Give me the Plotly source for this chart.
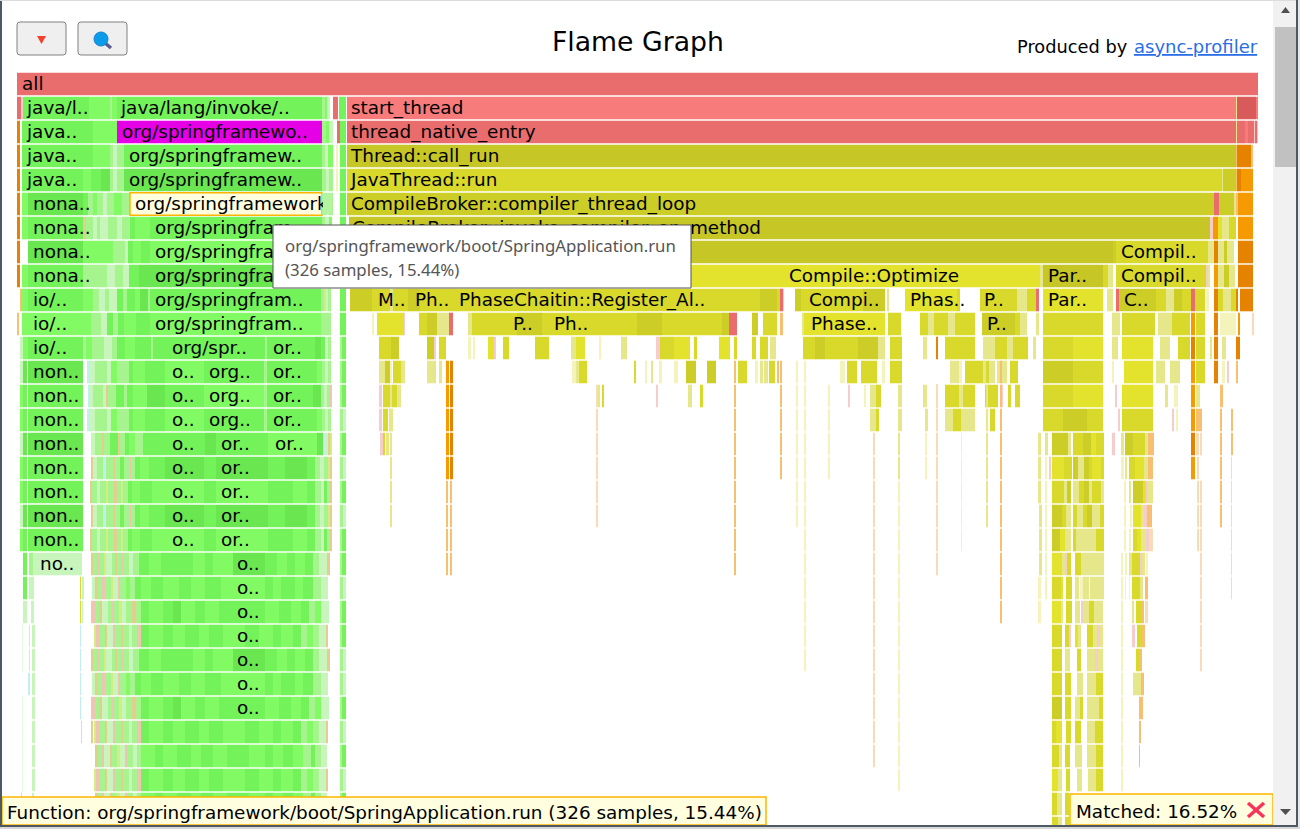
import plotly.graph_objects as go

# every frame is (start, width, kind); the "all" frame spans the whole scale
total_width = 1241

frame_colors = {
    "a": "#74f25a", "b": "#6ae650", "c": "#82fa64", "d": "#a6f48e", "e": "#c8f5bc", "f": "#e4fbde",
    "p": "#e3e32d", "q": "#d9d92b", "s": "#cdcd28", "t": "#c6c626", "u": "#e6e68a", "v": "#f3f3bb",
    "R": "#e96d6d", "S": "#f77b7b", "T": "#d95a5a", "W": "#f6cccc",
    "O": "#e58300", "P": "#f59a00", "X": "#f6c070", "Y": "#f8dcb8",
    "M": "#e600e6", "H": "#ffffe0", "C": "#bff0ee",
    "x": "#e6cc90", "w": "#f0c4b4", "y": "#d2ee80",
}

green_right = [(323, 2, "d"), (325, 4, "a")]
green_right_pale = [(323, 3, "d"), (326, 3, "e")]

row_00 = [(0, 1241, "R")]
row_01 = [(0, 4, "R"), (4, 2, "W"), (6, 66, "a"), (72, 21, "c"), (93, 2, "d"), (95, 5, "c"), (100, 205, "a"),
          (305, 3, "d"), (308, 2, "c"), (310, 3, "e"), (316, 5, "R"), (322, 7, "a"),
          (330, 889, "S"), (1219, 1, "u"), (1220, 19, "T"), (1239, 2, "S")]
row_02 = [(0, 3, "O"), (5, 71, "a"), (76, 24, "c"), (100, 205, "M"), (305, 4, "d"), (309, 3, "c"), (312, 4, "e"),
          (320, 3, "R"), (323, 6, "a"), (330, 889, "R"), (1219, 1, "u"), (1220, 8, "R"), (1228, 3, "S"),
          (1231, 6, "R"), (1237, 1, "W"), (1238, 2, "R"), (1240, 1, "d")]
row_03 = [(0, 3, "O"), (5, 71, "a"), (76, 17, "c"), (93, 3, "d"), (96, 4, "e"), (100, 7, "d"), (107, 198, "a"),
          (305, 3, "d"), (308, 3, "e"), (311, 5, "c"), (319, 2, "v"), (323, 6, "a"),
          (330, 889, "t"), (1219, 1, "X"), (1220, 4, "O"), (1224, 10, "O"), (1234, 2, "X")]
row_04 = [(0, 3, "O"), (5, 61, "a"), (66, 8, "c"), (74, 10, "a"), (84, 9, "b"), (93, 3, "d"), (96, 4, "e"),
          (100, 7, "d"), (107, 198, "b"), (305, 4, "d"), (309, 3, "e"), (312, 4, "d"), (319, 2, "v"), (323, 6, "a"),
          (330, 875, "q"), (1205, 1, "u"), (1206, 13, "s"), (1219, 1, "X"), (1220, 4, "O"), (1224, 2, "P"), (1226, 10, "P")]
row_05 = [(0, 3, "O"), (5, 6, "c"), (11, 55, "b"), (66, 5, "a"), (71, 5, "d"), (76, 4, "c"), (80, 6, "d"),
          (86, 4, "e"), (90, 7, "d"), (97, 8, "c"), (105, 8, "d"), (113, 192, "H"), (305, 4, "d"), (309, 3, "e"),
          (312, 4, "d"), (323, 6, "a"), (330, 867, "s"), (1197, 5, "R"), (1202, 15, "s"), (1217, 2, "u"),
          (1219, 2, "X"), (1221, 3, "P"), (1224, 12, "P")]
row_06 = [(0, 3, "O"), (5, 6, "c"), (11, 55, "a"), (66, 3, "x"), (69, 7, "d")] + \
         [(76, 4, "e"), (80, 3, "d"), (83, 8, "e"), (91, 9, "d"), (100, 5, "e"), (105, 8, "d"), (113, 5, "a"),
          (118, 15, "c"), (133, 172, "a"), (305, 3, "d"), (308, 4, "e"), (312, 3, "c"), (323, 6, "a"),
          (332, 861, "t"), (1193, 3, "W"), (1196, 5, "P"), (1201, 4, "p"), (1205, 7, "u"), (1212, 7, "q"),
          (1221, 2, "P"), (1223, 13, "P")]
row_07 = [(0, 3, "O"), (11, 55, "b"), (66, 10, "c")] + \
         [(76, 20, "c"), (96, 12, "d"), (108, 3, "e"), (111, 5, "a"), (116, 8, "c"), (124, 9, "a"), (133, 172, "c"),
          (305, 6, "d"), (311, 4, "e"), (323, 6, "a"), (332, 764, "t"), (1096, 3, "s"), (1099, 92, "q"),
          (1191, 6, "u"), (1197, 4, "O"), (1201, 6, "u"), (1207, 3, "s"), (1210, 7, "u"), (1221, 15, "O")]
row_08 = [(0, 3, "O"), (5, 6, "c"), (11, 55, "a"), (66, 10, "d")] + \
         [(76, 14, "d"), (90, 8, "e"), (98, 8, "d"), (106, 6, "e"), (112, 10, "a"), (122, 11, "b"), (133, 172, "b"),
          (305, 3, "a"), (308, 7, "d"), (323, 6, "a"), (332, 691, "p"), (1023, 3, "u"), (1026, 60, "t"),
          (1086, 5, "q"), (1091, 5, "u"), (1099, 90, "q"), (1189, 2, "W"), (1191, 2, "u"), (1197, 4, "P"),
          (1201, 6, "u"), (1207, 5, "s"), (1212, 6, "u"), (1221, 15, "O")]
row_09 = [(3, 2, "X"), (5, 6, "c"), (11, 55, "a"), (66, 10, "c"), (76, 6, "d"), (82, 6, "e"), (88, 4, "d"),
          (92, 8, "e"), (100, 6, "a"), (106, 4, "d"), (110, 8, "a"), (118, 5, "c"), (123, 8, "b"), (131, 2, "d"),
          (133, 171, "a"), (304, 3, "d"), (307, 2, "y"), (309, 2, "e"), (311, 3, "d"), (323, 6, "a"),
          (333, 22, "s"), (355, 18, "q"), (373, 3, "u"), (376, 15, "q"), (391, 12, "s"), (403, 10, "q"),
          (413, 330, "q"), (743, 17, "s"), (760, 3, "q"), (763, 3, "R"), (766, 1, "W"),
          (778, 6, "s"), (784, 62, "q"), (846, 22, "s"), (870, 2, "u"), (888, 52, "p"), (940, 3, "q"),
          (963, 37, "q"), (1000, 10, "u"), (1010, 9, "q"), (1019, 3, "R"), (1026, 60, "p"), (1090, 6, "u"),
          (1099, 3, "R"), (1102, 37, "s"), (1139, 10, "q"), (1149, 8, "u"), (1157, 8, "s"), (1165, 9, "q"),
          (1174, 4, "R"), (1178, 10, "q"), (1189, 3, "v"), (1197, 4, "O"), (1201, 5, "q"), (1206, 8, "u"),
          (1214, 5, "q"), (1219, 2, "O"), (1223, 13, "O")]
row_10 = [(0, 2, "X"), (5, 6, "c"), (11, 55, "c"), (66, 8, "c"), (74, 10, "d"), (84, 6, "e"), (90, 6, "a"),
          (96, 5, "d"), (101, 6, "a"), (107, 12, "c"), (119, 14, "a"), (133, 171, "c"), (304, 10, "d"), (323, 6, "a"),
          (355, 2, "v"), (360, 27, "p"), (387, 1, "W"), (402, 8, "q"), (410, 10, "s"), (420, 12, "u"), (432, 4, "R"),
          (451, 4, "u"), (455, 45, "q"), (500, 25, "s"), (525, 40, "q"), (565, 55, "q"), (620, 25, "s"),
          (645, 60, "q"), (705, 7, "s"), (712, 8, "R"), (735, 6, "s"), (746, 14, "q"), (763, 3, "X"),
          (785, 2, "u"), (787, 81, "p"), (871, 13, "q"), (903, 8, "q"), (911, 6, "u"), (917, 14, "q"), (931, 7, "u"),
          (938, 20, "q"), (965, 33, "s"), (998, 5, "q"), (1003, 7, "u"), (1019, 3, "u"), (1026, 60, "q"),
          (1095, 8, "u"), (1105, 33, "q"), (1141, 14, "u"), (1155, 18, "q"), (1174, 4, "P"), (1179, 9, "q"),
          (1197, 4, "O"), (1203, 16, "v"), (1221, 2, "P"), (1235, 2, "Y")]
row_11 = [(3, 3, "e"), (6, 5, "c"), (11, 55, "a"), (66, 3, "d"), (69, 6, "c"), (75, 12, "d"), (87, 8, "e"),
          (95, 5, "d"), (100, 8, "a"), (108, 10, "c"), (118, 16, "a"), (134, 2, "d"), (136, 112, "a"), (248, 2, "d"),
          (250, 48, "a"), (298, 6, "b"), (304, 4, "a"), (308, 3, "e"), (311, 3, "d")] + green_right + \
         [(362, 12, "q"), (374, 8, "s"), (410, 7, "s"), (417, 2, "W"), (422, 7, "q"), (451, 3, "v"), (456, 2, "v"),
          (471, 6, "p"), (477, 2, "W"), (486, 6, "q"), (518, 14, "q"), (554, 5, "u"), (559, 9, "p"), (582, 2, "v"),
          (604, 6, "u"), (639, 4, "W"), (643, 14, "q"), (657, 16, "p"), (677, 3, "q"), (702, 11, "p"),
          (717, 3, "q"), (735, 4, "q"), (743, 8, "q"), (753, 6, "u"),
          (786, 12, "q"), (798, 10, "s"), (808, 18, "q"), (826, 15, "q"), (841, 20, "s"), (861, 7, "u"), (873, 12, "q"),
          (906, 4, "u"), (919, 2, "O"), (928, 30, "q"), (966, 12, "u"), (978, 12, "q"), (990, 6, "u"), (996, 15, "q"),
          (1016, 3, "u"), (1026, 30, "q"), (1056, 30, "p"), (1095, 6, "u"), (1105, 31, "p"), (1143, 10, "u"),
          (1161, 12, "q"), (1174, 4, "O"), (1179, 9, "q"), (1193, 2, "u"), (1197, 4, "O"), (1205, 4, "u"), (1219, 4, "O")]

# the Spring stacks in the lower green block
green_mid_b = [(70, 2, "C"), (72, 6, "e"), (78, 12, "d"), (90, 4, "e"), (94, 6, "c"), (100, 12, "d"), (112, 4, "a"),
               (116, 12, "c"), (128, 20, "a"), (148, 39, "c"), (187, 60, "a"), (247, 3, "d"), (250, 50, "a"),
               (300, 5, "c"), (305, 3, "d"), (308, 3, "e"), (311, 3, "d")]
green_mid_b2 = [(71, 2, "C"), (73, 3, "e"), (76, 10, "d"), (86, 3, "e"), (89, 2, "x"), (91, 8, "d"), (99, 8, "a"),
                (107, 3, "d"), (110, 6, "a"), (116, 14, "c"), (130, 18, "b"), (148, 39, "a"), (187, 60, "c"),
                (247, 3, "d"), (250, 46, "a"), (296, 8, "b"), (304, 3, "d"), (307, 3, "e"), (310, 3, "d"), (313, 2, "w")]
green_mid_c = [(74, 4, "e"), (78, 7, "d"), (85, 2, "x"), (87, 6, "d"), (93, 8, "a"), (101, 2, "x"), (103, 5, "d"),
               (108, 4, "a"), (112, 6, "c"), (118, 8, "d"), (126, 22, "a"), (148, 40, "a"), (188, 11, "b"),
               (199, 52, "a"), (251, 49, "c"), (300, 6, "b"), (306, 2, "C"), (308, 3, "e"), (311, 2, "x"), (313, 2, "y")]
green_mid_d = [(74, 2, "x"), (76, 4, "e"), (80, 6, "d"), (86, 3, "C"), (89, 7, "d"), (96, 2, "x"), (98, 5, "d"),
               (103, 4, "a"), (107, 5, "d"), (112, 2, "w"), (114, 4, "d"), (118, 5, "a"), (123, 9, "c"), (132, 16, "a"),
               (148, 39, "b"), (187, 12, "a"), (199, 52, "b"), (251, 17, "a"), (268, 22, "b"), (290, 8, "a"),
               (298, 5, "d"), (303, 4, "e"), (307, 4, "d"), (311, 2, "y"), (313, 2, "x")]
green_mid_e = [(73, 2, "x"), (75, 5, "d"), (80, 3, "e"), (83, 6, "d"), (89, 2, "y"), (91, 6, "d"), (97, 3, "x"),
               (100, 4, "d"), (104, 2, "y"), (106, 5, "d"), (111, 4, "a"), (115, 8, "c"), (123, 12, "a"), (135, 13, "c"),
               (148, 39, "c"), (187, 12, "a"), (199, 52, "c"), (251, 25, "a"), (276, 14, "c"), (290, 8, "a"),
               (298, 6, "d"), (304, 3, "e"), (307, 3, "a"), (310, 3, "d"), (313, 2, "x")]
green_low_a = [(74, 2, "x"), (76, 4, "d"), (80, 2, "w"), (82, 5, "d"), (87, 2, "y"), (89, 6, "e"), (95, 3, "d"),
               (98, 2, "x"), (100, 4, "d"), (104, 2, "w"), (106, 6, "d"), (112, 4, "e"), (116, 6, "d"), (122, 10, "a"),
               (132, 12, "c"), (144, 32, "a"), (176, 12, "c"), (188, 8, "a"), (196, 20, "c"), (216, 32, "b"),
               (248, 12, "a"), (260, 10, "c"), (270, 8, "a"), (278, 10, "c"), (288, 8, "a"), (296, 6, "d"), (302, 8, "e"), (310, 3, "x")]
green_low_b = [(75, 3, "e"), (78, 2, "x"), (80, 5, "d"), (85, 3, "w"), (88, 6, "d"), (94, 2, "y"), (96, 5, "e"),
               (101, 2, "w"), (103, 6, "d"), (109, 4, "c"), (113, 5, "d"), (118, 6, "a"), (124, 10, "c"), (134, 12, "a"),
               (146, 16, "c"), (162, 12, "a"), (174, 14, "c"), (188, 16, "a"), (204, 12, "c"), (216, 32, "c"),
               (248, 8, "a"), (256, 8, "c"), (264, 14, "a"), (278, 8, "c"), (286, 10, "a"), (296, 8, "d"), (304, 7, "e")]
green_low_c = [(74, 4, "w"), (78, 4, "d"), (82, 3, "x"), (85, 6, "e"), (91, 4, "d"), (95, 2, "w"), (97, 5, "d"),
               (102, 3, "y"), (105, 4, "e"), (109, 6, "d"), (115, 4, "x"), (119, 5, "d"), (124, 8, "a"), (132, 14, "c"),
               (146, 10, "a"), (156, 8, "b"), (164, 14, "c"), (178, 10, "a"), (188, 14, "c"), (202, 14, "a"),
               (216, 32, "a"), (248, 14, "c"), (262, 12, "a"), (274, 10, "c"), (284, 8, "a"), (292, 6, "d"), (298, 6, "c"), (304, 8, "e")]
green_low_d = [(77, 2, "y"), (79, 4, "w"), (83, 5, "d"), (88, 2, "x"), (90, 6, "e"), (96, 3, "w"), (99, 5, "d"),
               (104, 2, "x"), (106, 6, "d"), (112, 3, "e"), (115, 5, "d"), (120, 4, "w"), (124, 8, "a"), (132, 14, "c"),
               (146, 10, "a"), (156, 12, "c"), (168, 14, "a"), (182, 10, "c"), (192, 14, "a"), (206, 12, "c"),
               (218, 10, "c"), (228, 14, "a"), (242, 14, "c"), (256, 8, "a"), (264, 12, "c"), (276, 8, "a"), (284, 6, "d"),
               (290, 6, "c"), (296, 6, "d"), (302, 7, "e"), (309, 2, "x")]
green_low_e = [(78, 3, "x"), (81, 4, "d"), (85, 2, "w"), (87, 6, "e"), (93, 2, "x"), (95, 5, "d"), (100, 3, "y"),
               (103, 5, "e"), (108, 2, "w"), (110, 6, "d"), (116, 4, "e"), (120, 4, "d"), (124, 14, "c"), (138, 8, "a"),
               (146, 14, "c"), (160, 14, "a"), (174, 10, "c"), (184, 12, "a"), (196, 14, "c"), (210, 8, "a"),
               (218, 14, "a"), (232, 16, "c"), (248, 8, "a"), (256, 10, "c"), (266, 10, "a"), (276, 10, "c"), (286, 8, "d"),
               (294, 4, "a"), (298, 6, "d"), (304, 6, "e")]

left_non = [(3, 3, "c"), (6, 4, "a"), (11, 55, "a")]
left_non_dark = [(3, 3, "e"), (6, 4, "b"), (11, 55, "b")]

row_12 = left_non_dark + green_mid_b + green_right + \
         [(362, 6, "u"), (368, 5, "s"), (373, 2, "v"), (376, 8, "q"), (384, 4, "u"), (410, 8, "u"), (418, 1, "W"),
          (422, 3, "u"), (555, 4, "v"), (559, 3, "u"), (562, 8, "q"), (617, 2, "q"), (628, 2, "v"), (634, 2, "u"),
          (642, 3, "v"), (657, 4, "v"), (669, 10, "s"), (690, 9, "s"), (721, 9, "q"), (738, 3, "v"), (743, 3, "u"),
          (747, 4, "u"), (752, 6, "q"), (760, 2, "X"),
          (823, 5, "v"), (830, 10, "q"), (844, 16, "q"), (865, 3, "v"), (873, 12, "q"), (933, 9, "u"), (942, 3, "v"),
          (948, 25, "q"), (966, 3, "u"), (972, 6, "u"), (980, 10, "u"), (993, 8, "q"), (1026, 30, "s"), (1056, 30, "q"),
          (1095, 2, "v"), (1107, 29, "p"), (1139, 9, "u"), (1153, 10, "u"), (1174, 4, "P"), (1179, 9, "q"),
          (1197, 4, "O"), (1219, 2, "X"), (1205, 3, "v"), (1210, 2, "W")]
row_13 = left_non + green_mid_b2 + green_right + \
         [(362, 3, "W"), (366, 7, "q"), (375, 5, "q"), (380, 4, "u"), (581, 2, "u"), (585, 2, "q"), (639, 2, "W"),
          (671, 4, "u"), (683, 3, "q"),
          (831, 2, "W"), (847, 2, "v"), (853, 6, "u"), (859, 5, "q"), (883, 2, "u"), (906, 4, "u"), (919, 2, "O"),
          (928, 14, "q"), (942, 4, "u"), (946, 12, "q"), (968, 13, "q"), (983, 3, "W"), (991, 3, "q"), (998, 5, "q"),
          (1026, 30, "q"), (1056, 30, "p"), (1098, 2, "W"), (1105, 31, "p"), (1148, 3, "u"), (1157, 4, "v"),
          (1174, 4, "P"), (1179, 4, "u"), (1203, 3, "X")]
row_14 = left_non + green_mid_b + green_right_pale + \
         [(362, 3, "W"), (366, 5, "q"), (372, 4, "u"),
          (853, 6, "u"), (859, 3, "q"), (883, 2, "u"), (908, 3, "u"), (928, 8, "u"), (936, 8, "q"), (944, 14, "u"),
          (973, 5, "q"), (983, 2, "v"), (1026, 20, "q"), (1046, 24, "s"), (1070, 16, "q"), (1101, 2, "W"),
          (1105, 31, "q"), (1155, 2, "W"), (1159, 2, "v"), (1174, 4, "P"), (1179, 6, "X"), (1203, 2, "X"), (1214, 2, "X")]
row_15 = left_non_dark + green_mid_c + green_right + \
         [(363, 3, "W"), (366, 2, "q"), (369, 3, "u"), (1021, 3, "u"), (1028, 3, "u"), (1035, 16, "s"), (1051, 3, "u"),
          (1056, 10, "q"), (1066, 8, "s"), (1074, 5, "p"), (1079, 8, "q"), (1095, 3, "W"), (1104, 3, "u"),
          (1108, 8, "s"), (1116, 12, "q"), (1128, 3, "u"), (1131, 6, "X"), (1174, 4, "O"), (1179, 3, "Y"),
          (1183, 2, "Y"), (1203, 2, "X"), (1214, 2, "X")]
row_16 = left_non + green_mid_d + green_right_pale + \
         [(1021, 3, "u"), (1028, 2, "v"), (1032, 2, "W"), (1035, 12, "p"), (1047, 8, "q"), (1056, 5, "s"), (1061, 6, "u"),
          (1067, 5, "s"), (1072, 3, "q"), (1075, 9, "p"), (1084, 3, "q"), (1104, 3, "v"), (1108, 2, "u"), (1112, 6, "q"),
          (1118, 9, "p"), (1127, 4, "u"), (1131, 5, "X"), (1174, 4, "P"), (1180, 2, "Y"), (1203, 2, "X"), (1214, 1, "Y")]
row_17 = left_non + green_mid_e + green_right + \
         [(1021, 3, "u"), (1028, 2, "v"), (1035, 12, "q"), (1047, 3, "u"), (1050, 4, "s"), (1056, 6, "u"), (1062, 5, "q"),
          (1067, 5, "s"), (1072, 3, "u"), (1075, 9, "q"), (1084, 3, "u"), (1107, 2, "v"), (1112, 2, "u"), (1116, 10, "s"),
          (1126, 3, "p"), (1129, 2, "W"), (1131, 5, "u"), (1180, 2, "Y"), (1183, 2, "Y"), (1203, 2, "X"), (1214, 1, "Y")]
row_18 = left_non_dark + green_mid_d + green_right_pale + \
         [(1022, 3, "u"), (1028, 2, "v"), (1035, 10, "s"), (1045, 4, "q"), (1049, 5, "u"), (1056, 4, "q"), (1060, 6, "u"),
          (1066, 4, "q"), (1070, 5, "s"), (1075, 8, "u"), (1083, 4, "q"), (1107, 2, "v"), (1113, 2, "v"), (1116, 8, "p"),
          (1124, 3, "u"), (1127, 3, "W"), (1130, 5, "X"), (1180, 2, "Y"), (1183, 2, "Y"), (1203, 2, "X"), (1214, 1, "Y")]
row_19 = left_non + green_mid_e + green_right + \
         [(1022, 3, "u"), (1028, 2, "v"), (1035, 8, "s"), (1043, 5, "p"), (1048, 6, "u"), (1056, 3, "q"), (1059, 4, "u"),
          (1063, 8, "u"), (1071, 8, "u"), (1079, 8, "q"), (1107, 2, "v"), (1112, 2, "v"), (1116, 4, "q"), (1120, 4, "p"),
          (1124, 5, "u"), (1129, 3, "W"), (1132, 4, "Y"), (1180, 2, "Y"), (1183, 2, "Y"), (1214, 1, "Y")]
row_20 = [(6, 4, "a"), (12, 4, "d"), (16, 49, "e")] + green_low_a + green_right + \
         [(1022, 3, "u"), (1028, 2, "v"), (1035, 10, "p"), (1045, 3, "u"), (1048, 2, "W"), (1050, 4, "q"), (1058, 6, "q"),
          (1064, 6, "u"), (1070, 8, "u"), (1078, 9, "u"), (1104, 2, "v"), (1108, 2, "v"), (1112, 3, "u"), (1115, 8, "q"),
          (1123, 2, "W"), (1125, 3, "u"), (1129, 2, "v"), (1183, 2, "Y"), (1214, 1, "Y")]
row_21 = [(6, 4, "a"), (12, 5, "e"), (63, 1, "q"), (65, 2, "e")] + green_low_b + green_right_pale + \
         [(1021, 3, "v"), (1028, 2, "v"), (1035, 9, "q"), (1044, 2, "p"), (1049, 6, "q"), (1058, 4, "u"), (1063, 3, "v"),
          (1066, 6, "u"), (1073, 6, "u"), (1079, 8, "u"), (1104, 2, "v"), (1108, 1, "v"), (1112, 1, "v"), (1115, 8, "q"),
          (1123, 3, "u"), (1128, 3, "X"), (1183, 2, "Y"), (1214, 1, "Y")]
row_22 = [(6, 4, "e"), (14, 3, "e"), (63, 1, "q"), (65, 1, "e")] + green_low_c + green_right + \
         [(1021, 3, "v"), (1035, 9, "p"), (1044, 2, "u"), (1049, 6, "q"), (1058, 5, "u"), (1064, 2, "W"), (1066, 6, "u"),
          (1072, 5, "q"), (1077, 9, "u"), (1104, 2, "v"), (1115, 2, "u"), (1119, 6, "q"), (1125, 2, "X"), (1128, 3, "Y"),
          (1183, 2, "Y")]
row_23 = [(5, 1, "f"), (12, 1, "e"), (15, 3, "e"), (63, 1, "C")] + green_low_d + green_right + \
         [(1035, 10, "q"), (1048, 4, "q"), (1052, 2, "W"), (1058, 3, "p"), (1061, 3, "u"), (1070, 6, "q"), (1076, 4, "u"),
          (1080, 3, "W"), (1083, 3, "u"), (1104, 2, "v"), (1115, 3, "W"), (1120, 5, "q"), (1125, 3, "X"), (1183, 2, "Y")]
row_24 = [(5, 1, "f"), (12, 1, "e"), (15, 3, "e"), (63, 1, "C")] + green_low_a + green_right_pale + \
         [(1035, 10, "q"), (1048, 5, "u"), (1060, 4, "q"), (1070, 8, "u"), (1078, 3, "W"), (1081, 5, "u"), (1104, 2, "v"),
          (1119, 3, "q"), (1122, 3, "X"), (1183, 2, "Y")]
row_25 = [(11, 2, "C"), (15, 3, "e"), (63, 1, "C")] + green_low_b + green_right_pale + \
         [(1035, 10, "q"), (1048, 6, "q"), (1060, 6, "u"), (1070, 9, "u"), (1079, 7, "q"), (1104, 2, "v"), (1116, 8, "u"),
          (1124, 3, "X")]
row_26 = [(5, 1, "f"), (15, 3, "e"), (63, 1, "C")] + green_low_c + green_right + \
         [(1035, 10, "s"), (1048, 6, "q"), (1058, 5, "u"), (1063, 3, "q"), (1070, 12, "u"), (1082, 4, "q"), (1104, 2, "v"),
          (1122, 4, "X")]
row_27 = [(5, 1, "f"), (15, 3, "e"), (64, 1, "W"), (74, 2, "x")] + green_low_d + green_right_pale + \
         [(1035, 4, "q"), (1039, 6, "p"), (1049, 5, "q"), (1058, 6, "q"), (1070, 8, "u"), (1078, 8, "q"), (1104, 2, "v"),
          (1122, 2, "X")]
row_28 = [(5, 1, "f"), (15, 3, "e")] + green_low_e + green_right + \
         [(1035, 7, "q"), (1042, 3, "u"), (1048, 5, "q"), (1058, 7, "u"), (1070, 9, "u"), (1079, 7, "q"), (1104, 2, "v"),
          (1122, 1, "X")]
row_29 = [(5, 1, "f"), (15, 3, "e")] + green_low_d + green_right_pale + \
         [(1035, 6, "p"), (1041, 4, "u"), (1049, 4, "q"), (1060, 5, "u"), (1071, 8, "u"), (1079, 7, "q"), (1104, 2, "v")]
row_30 = [(4, 1, "W"), (15, 2, "e")] + green_low_e + green_right + \
         [(1035, 5, "q"), (1040, 5, "u"), (1048, 4, "q")]
row_31 = [(15, 2, "e")] + green_low_d + green_right_pale + [(1035, 6, "q"), (1041, 4, "u"), (1048, 4, "q")]

all_rows = [row_00, row_01, row_02, row_03, row_04, row_05, row_06, row_07, row_08, row_09, row_10,
            row_11, row_12, row_13, row_14, row_15, row_16, row_17, row_18, row_19, row_20, row_21,
            row_22, row_23, row_24, row_25, row_26, row_27, row_28, row_29, row_30, row_31]

# tall thin stacks: (start, width, kind, first row, last row)
thin_stacks = [
    (373, 2, "u", 13, 18), (429, 3, "P", 12, 16), (429, 2, "X", 17, 20), (433, 3, "O", 12, 16), (433, 2, "X", 17, 20),
    (579, 2, "Y", 13, 18), (717, 2, "X", 12, 20), (763, 2, "X", 12, 16), (779, 2, "v", 12, 18), (787, 2, "v", 12, 24),
    (811, 2, "v", 13, 16), (856, 2, "Y", 15, 28), (881, 2, "u", 13, 16), (881, 2, "v", 17, 29), (908, 2, "v", 15, 16),
    (919, 2, "Y", 13, 20), (944, 1, "v", 15, 19), (969, 2, "u", 13, 18), (983, 2, "X", 12, 22),
]

frame_row, frame_start, frame_width, frame_color = [], [], [], []
for row_index, row_frames in enumerate(all_rows):
    for start, width, kind in row_frames:
        frame_row.append(row_index)
        frame_start.append(start)
        frame_width.append(width)
        frame_color.append(frame_colors[kind])
for start, width, kind, first_row, last_row in thin_stacks:
    for row_index in range(first_row, last_row + 1):
        frame_row.append(row_index)
        frame_start.append(start)
        frame_width.append(width)
        frame_color.append(frame_colors[kind])

line_color = ["#ffb400" if c == frame_colors["H"] else c for c in frame_color]
line_width = [1.5 if c == frame_colors["H"] else 0 for c in frame_color]

label_rows = [0,
              1, 1, 1, 2, 2, 2, 3, 3, 3, 4, 4, 4,
              5, 5, 5, 6, 6, 6, 7, 7, 7, 8, 8, 8, 8, 8,
              9, 9, 9, 9, 9, 9, 9, 9, 9, 9,
              10, 10, 10, 10, 10, 10,
              11, 11, 11,
              12, 12, 12, 12, 13, 13, 13, 13, 14, 14, 14, 14,
              15, 15, 15, 15, 16, 16, 16, 17, 17, 17, 18, 18, 18, 19, 19, 19,
              20, 20, 21, 22, 23, 24, 25, 26]
label_starts = [5,
                10, 104, 334, 10, 105, 334, 10, 112, 334, 10, 112, 334,
                16, 118, 334, 16, 138, 335, 16, 138, 1104, 16, 138, 772, 1031, 1104,
                16, 138, 361, 398, 442, 792, 893, 967, 1031, 1107,
                16, 138, 496, 537, 794, 970,
                16, 155, 256,
                16, 155, 192, 256, 16, 155, 192, 256, 16, 155, 192, 256,
                16, 155, 204, 258, 16, 155, 204, 16, 155, 204, 16, 155, 204, 16, 155, 204,
                23, 220, 220, 220, 220, 220, 220, 220]
label_texts = ["all",
               "java/l..", "java/lang/invoke/..", "start_thread",
               "java..", "org/springframewo..", "thread_native_entry",
               "java..", "org/springframew..", "Thread::call_run",
               "java..", "org/springframew..", "JavaThread::run",
               "nona..", "org/springframework", "CompileBroker::compiler_thread_loop",
               "nona..", "org/springfram", "CompileBroker::invoke_compiler_on_method",
               "nona..", "org/springfram", "Compil..",
               "nona..", "org/springfram", "Compile::Optimize", "Par..", "Compil..",
               "io/..", "org/springfram..", "M..", "Ph..", "PhaseChaitin::Register_Al..", "Compi..", "Phas..", "P..", "Par..", "C..",
               "io/..", "org/springfram..", "P..", "Ph..", "Phase..", "P..",
               "io/..", "org/spr..", "or..",
               "non..", "o..", "org..", "or..", "non..", "o..", "org..", "or..", "non..", "o..", "org..", "or..",
               "non..", "o..", "or..", "or..", "non..", "o..", "or..", "non..", "o..", "or..", "non..", "o..", "or..",
               "non..", "o..", "or..",
               "no..", "o..", "o..", "o..", "o..", "o..", "o..", "o.."]

tooltip_lines = ["org/springframework/boot/SpringApplication.run", "(326 samples, 15.44%)"]
status_text = "Function: org/springframework/boot/SpringApplication.run (326 samples, 15.44%)"
matched_text = "Matched: 16.52%"

W, H = 1300, 829
FONT = "DejaVu Sans"
LABEL_SIZE = 18.4


def px(x):
    return x / W


def py(y):
    return 1 - y / H


def box(x0, y0, x1, y1, fill, line=None, lw=1):
    return dict(type="rect", xref="paper", yref="paper", x0=px(x0), y0=py(y0), x1=px(x1), y1=py(y1),
                fillcolor=fill, line=dict(color=line or fill, width=lw if line else 0), layer="above")


def rounded(x0, y0, x1, y1, r, fill, line):
    path = (f"M {px(x0 + r)} {py(y0)} L {px(x1 - r)} {py(y0)} Q {px(x1)} {py(y0)} {px(x1)} {py(y0 + r)} "
            f"L {px(x1)} {py(y1 - r)} Q {px(x1)} {py(y1)} {px(x1 - r)} {py(y1)} "
            f"L {px(x0 + r)} {py(y1)} Q {px(x0)} {py(y1)} {px(x0)} {py(y1 - r)} "
            f"L {px(x0)} {py(y0 + r)} Q {px(x0)} {py(y0)} {px(x0 + r)} {py(y0)} Z")
    return dict(type="path", xref="paper", yref="paper", path=path, fillcolor=fill,
                line=dict(color=line, width=1), layer="above")


def seg(x0, y0, x1, y1, color, lw):
    return dict(type="line", xref="paper", yref="paper", x0=px(x0), y0=py(y0), x1=px(x1), y1=py(y1),
                line=dict(color=color, width=lw), layer="above")


def text(x, y, s, size, color="#000000", anchor="left", family=FONT):
    return dict(xref="paper", yref="paper", x=px(x), y=py(y), text=s, showarrow=False, xanchor=anchor,
                yanchor="middle", font=dict(family=family, size=size, color=color), borderpad=0, borderwidth=0)


fig = go.Figure()
fig.add_trace(go.Bar(
    orientation="h", y=frame_row, x=frame_width, base=frame_start, width=0.94,
    marker=dict(color=frame_color, line=dict(color=line_color, width=line_width)),
    hoverinfo="skip", showlegend=False,
))
fig.add_trace(go.Scatter(
    x=label_starts, y=[r + 0.05 for r in label_rows], text=label_texts, mode="text", textposition="middle right",
    textfont=dict(family=FONT, size=LABEL_SIZE, color="#000000"), hoverinfo="skip", showlegend=False,
))

shapes = [
    # toolbar buttons
    rounded(17, 22, 66, 55, 3, "#efefef", "#808080"),
    rounded(78, 22, 127, 55, 3, "#efefef", "#808080"),
    dict(type="path", xref="paper", yref="paper", layer="above", fillcolor="#f5402c", line=dict(width=0),
         path=f"M {px(37)} {py(36)} L {px(46)} {py(36)} L {px(41.5)} {py(44)} Z"),
    seg(105, 43, 111, 48, "#5b5b8f", 3.5),
    dict(type="circle", xref="paper", yref="paper", layer="above", fillcolor="#0a9bea", line=dict(color="#1a7fd0", width=1),
         x0=px(94), y0=py(46), x1=px(108), y1=py(32)),
    # the highlighted frame clips its own text
    box(323, 193, 332, 214, "#b4f4a0"),
    # tooltip
    box(273, 225, 691, 288, "#ffffff", "#555555"),
    # status boxes
    box(2, 797, 766, 825, "#ffffe0", "#ffb400", 1.5),
    box(1070, 794, 1273, 825, "#ffffe0", "#ffb400", 1.5),
    seg(1248, 803, 1264, 817, "#f8345c", 3.5),
    seg(1264, 803, 1248, 817, "#f8345c", 3.5),
    # scrollbar and window edge
    box(1273, 0, 1296, 826, "#f1f1f1"),
    box(1275, 27, 1296, 167, "#c1c1c1"),
    dict(type="path", xref="paper", yref="paper", layer="above", fillcolor="#505050", line=dict(width=0),
         path=f"M {px(1281)} {py(13)} L {px(1290)} {py(13)} L {px(1285.5)} {py(7)} Z"),
    dict(type="path", xref="paper", yref="paper", layer="above", fillcolor="#505050", line=dict(width=0),
         path=f"M {px(1280)} {py(809)} L {px(1291)} {py(809)} L {px(1285.5)} {py(815)} Z"),
    box(1296, 0, 1298, 826, "#4d5a66"),
    box(1298, 0, 1300, 829, "#e8e8e8"),
    box(0, 0, 2, 826, "#4d5a66"),
    box(0, 825, 1298, 827, "#4d5a66"),
    box(0, 827, 1300, 829, "#d8d8d8"),
    box(0, 0, 1296, 1, "#dcdcdc"),
]

annotations = [
    text(637.5, 41.5, "Flame Graph", 26.7, anchor="center"),
    text(1017, 47, "Produced by", 17.8),
    text(1134, 47, "<a href='https://github.com/async-profiler/async-profiler' style='color:#2a6ee6'><u>async-profiler</u></a>", 18, "#2a6ee6"),
    text(285, 245.5, tooltip_lines[0], 16.8, "#555555", family="Noto Sans"),
    text(285, 269.5, tooltip_lines[1], 16.8, "#555555", family="Noto Sans"),
    text(7, 812, status_text, LABEL_SIZE),
    text(1076, 811, matched_text, LABEL_SIZE),
]

fig.update_layout(
    width=W, height=H, margin=dict(l=0, r=0, t=0, b=0), autosize=False,
    paper_bgcolor="#ffffff", plot_bgcolor="#ffffff", barmode="overlay",
    xaxis=dict(range=[-17, W - 17], visible=False, fixedrange=True),
    yaxis=dict(range=[(H - 84) / 24, -84 / 24], visible=False, fixedrange=True),
    shapes=shapes, annotations=annotations, showlegend=False,
)

fig.write_html("out.html", config=dict(displayModeBar=False),
               post_script="document.body.style.margin='0';document.body.style.overflow='hidden';")
